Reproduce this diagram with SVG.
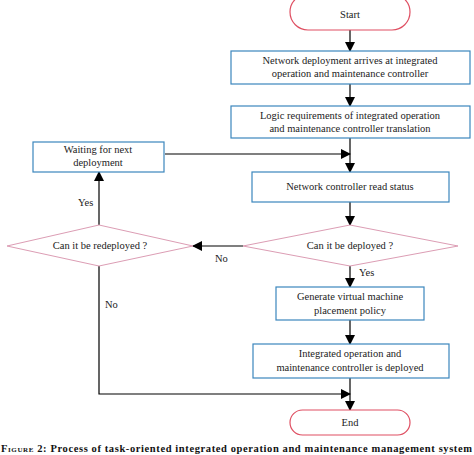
<svg xmlns="http://www.w3.org/2000/svg" width="474" height="455" viewBox="0 0 474 455">
<defs>
<marker id="ah" markerWidth="10" markerHeight="10" refX="9" refY="5" orient="auto" markerUnits="userSpaceOnUse">
<path d="M0,0 L10,5 L0,10 Z" fill="#000"/>
</marker>
<style>
text{font-family:"Liberation Serif","Times New Roman",serif;font-size:10.5px;fill:#222;text-anchor:middle}
.box{fill:#fff;stroke:#3b86bd;stroke-width:1.2}
.dia{fill:#fff;stroke:#dc9db4;stroke-width:1}
.term{fill:#fff;stroke:#df4f62;stroke-width:1.2}
.arr{fill:none;stroke:#000;stroke-width:1.2;marker-end:url(#ah)}
.lbl{text-anchor:start}
.cap{font-size:10.5px;font-weight:bold;fill:#111;text-anchor:start}
</style>
</defs>
<rect width="474" height="455" fill="#fff"/>
<g id="connectors">
<path class="arr" d="M350,30 V51"/>
<path class="arr" d="M350,84 V106"/>
<path class="arr" d="M350,138 V172"/>
<path class="arr" d="M165,154 H350"/>
<path class="arr" d="M350,202 V225"/>
<path class="arr" d="M243,246 H193"/>
<path class="arr" d="M99,225 V172"/>
<path class="arr" d="M350,266 V287"/>
<path class="arr" d="M350,320 V344"/>
<path class="arr" d="M350,378 V410"/>
<path class="arr" d="M99,266 V394 H350"/>
<text class="lbl" x="78" y="206">Yes</text>
<text class="lbl" x="215" y="262">No</text>
<text class="lbl" x="359" y="276">Yes</text>
<text class="lbl" x="105" y="308">No</text>
</g>
<g id="start">
<rect class="term" x="290" y="-6" width="120" height="36" rx="18"/>
<text x="350" y="18">Start</text>
</g>
<g id="deploy-arrives">
<rect class="box" x="231" y="51" width="239" height="33"/>
<text x="350" y="64">Network deployment arrives at integrated</text>
<text x="350" y="77">operation and maintenance controller</text>
</g>
<g id="logic-req">
<rect class="box" x="231" y="106" width="239" height="32"/>
<text x="350" y="119">Logic requirements of integrated operation</text>
<text x="350" y="132">and maintenance controller translation</text>
</g>
<g id="waiting">
<rect class="box" x="33" y="142" width="131" height="30"/>
<text x="98" y="153">Waiting for next</text>
<text x="98" y="166">deployment</text>
</g>
<g id="read-status">
<rect class="box" x="252" y="172" width="197" height="30"/>
<text x="350" y="190">Network controller read status</text>
</g>
<g id="can-deploy">
<path class="dia" d="M350,225 L458,246 L350,266 L243,246 Z"/>
<text x="350" y="249">Can it be deployed ?</text>
</g>
<g id="can-redeploy">
<path class="dia" d="M99,225 L193,246 L99,266 L7,246 Z"/>
<text x="100" y="249">Can it be redeployed ?</text>
</g>
<g id="generate">
<rect class="box" x="276" y="287" width="148" height="33"/>
<text x="350" y="300">Generate virtual machine</text>
<text x="350" y="314">placement policy</text>
</g>
<g id="deployed">
<rect class="box" x="253" y="344" width="196" height="34"/>
<text x="350" y="357">Integrated operation and</text>
<text x="350" y="371">maintenance controller is deployed</text>
</g>
<g id="end">
<rect class="term" x="290" y="410" width="120" height="25" rx="12.5"/>
<text x="350" y="426">End</text>
</g>
<text class="cap" x="1" y="452" textLength="471" lengthAdjust="spacing"><tspan style="font-variant:small-caps">Figure</tspan> 2: Process of task-oriented integrated operation and maintenance management system</text>
</svg>
